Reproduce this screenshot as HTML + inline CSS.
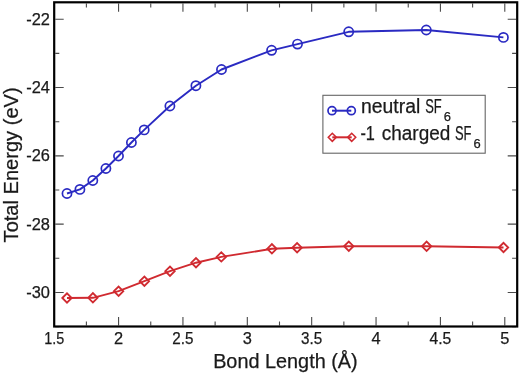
<!DOCTYPE html>
<html><head><meta charset="utf-8"><style>
html,body{margin:0;padding:0;background:#fff;}
svg{display:block;}
text{font-family:"Liberation Sans",Arial,sans-serif;fill:#1a1a1a;stroke:#1a1a1a;stroke-width:0.25px;}
.tl{font-size:16.4px;}
.al{font-size:19.6px;}
.lg{font-size:19.6px;}
.sb{font-size:12.3px;}
</style></head><body>
<svg width="520" height="374" viewBox="0 0 520 374">
<rect width="520" height="374" fill="#fff"/>
<path d="M86.39 325.40V321.40M86.39 3.40V7.40M118.57 325.40V317.00M118.57 3.40V11.80M150.75 325.40V321.40M150.75 3.40V7.40M182.94 325.40V317.00M182.94 3.40V11.80M215.12 325.40V321.40M215.12 3.40V7.40M247.31 325.40V317.00M247.31 3.40V11.80M279.50 325.40V321.40M279.50 3.40V7.40M311.68 325.40V317.00M311.68 3.40V11.80M343.87 325.40V321.40M343.87 3.40V7.40M376.05 325.40V317.00M376.05 3.40V11.80M408.24 325.40V321.40M408.24 3.40V7.40M440.42 325.40V317.00M440.42 3.40V11.80M472.61 325.40V321.40M472.61 3.40V7.40M504.79 325.40V317.00M504.79 3.40V11.80M55.30 19.20H63.70M516.10 19.20H507.70M55.30 53.36H59.30M516.10 53.36H512.10M55.30 87.52H63.70M516.10 87.52H507.70M55.30 121.68H59.30M516.10 121.68H512.10M55.30 155.84H63.70M516.10 155.84H507.70M55.30 190.00H59.30M516.10 190.00H512.10M55.30 224.16H63.70M516.10 224.16H507.70M55.30 258.32H59.30M516.10 258.32H512.10M55.30 292.48H63.70M516.10 292.48H507.70M55.30 326.64H59.30M516.10 326.64H512.10" stroke="#4a4a4a" stroke-width="1.1" fill="none"/>
<polyline points="67,193.5 79.9,189.4 92.8,180.5 105.9,168.5 118.5,156.0 131.4,142.5 144.2,129.9 169.9,106.0 195.9,85.7 221.5,69.5 271.6,50.3 297.5,44.1 348.7,31.8 426.3,30.0 503.4,37.4" fill="none" stroke="#2a2ac2" stroke-width="1.9" stroke-linejoin="round"/>
<polyline points="67,298 92.9,297.8 118.6,291.2 144.4,281.2 170,271.2 196,262.7 221.3,256.9 271.9,248.8 297.1,247.7 348.8,246.2 426.6,246.3 503.5,247.5" fill="none" stroke="#d02a30" stroke-width="1.9" stroke-linejoin="round"/>
<circle cx="67" cy="193.5" r="4.6" fill="none" stroke="#2a2ac2" stroke-width="1.7"/>
<circle cx="79.9" cy="189.4" r="4.6" fill="none" stroke="#2a2ac2" stroke-width="1.7"/>
<circle cx="92.8" cy="180.5" r="4.6" fill="none" stroke="#2a2ac2" stroke-width="1.7"/>
<circle cx="105.9" cy="168.5" r="4.6" fill="none" stroke="#2a2ac2" stroke-width="1.7"/>
<circle cx="118.5" cy="156.0" r="4.6" fill="none" stroke="#2a2ac2" stroke-width="1.7"/>
<circle cx="131.4" cy="142.5" r="4.6" fill="none" stroke="#2a2ac2" stroke-width="1.7"/>
<circle cx="144.2" cy="129.9" r="4.6" fill="none" stroke="#2a2ac2" stroke-width="1.7"/>
<circle cx="169.9" cy="106.0" r="4.6" fill="none" stroke="#2a2ac2" stroke-width="1.7"/>
<circle cx="195.9" cy="85.7" r="4.6" fill="none" stroke="#2a2ac2" stroke-width="1.7"/>
<circle cx="221.5" cy="69.5" r="4.6" fill="none" stroke="#2a2ac2" stroke-width="1.7"/>
<circle cx="271.6" cy="50.3" r="4.6" fill="none" stroke="#2a2ac2" stroke-width="1.7"/>
<circle cx="297.5" cy="44.1" r="4.6" fill="none" stroke="#2a2ac2" stroke-width="1.7"/>
<circle cx="348.7" cy="31.8" r="4.6" fill="none" stroke="#2a2ac2" stroke-width="1.7"/>
<circle cx="426.3" cy="30.0" r="4.6" fill="none" stroke="#2a2ac2" stroke-width="1.7"/>
<circle cx="503.4" cy="37.4" r="4.6" fill="none" stroke="#2a2ac2" stroke-width="1.7"/>
<path d="M62.30 298L67 293.30L71.70 298L67 302.70Z" fill="none" stroke="#d02a30" stroke-width="1.8"/>
<path d="M88.20 297.8L92.9 293.10L97.60 297.8L92.9 302.50Z" fill="none" stroke="#d02a30" stroke-width="1.8"/>
<path d="M113.90 291.2L118.6 286.50L123.30 291.2L118.6 295.90Z" fill="none" stroke="#d02a30" stroke-width="1.8"/>
<path d="M139.70 281.2L144.4 276.50L149.10 281.2L144.4 285.90Z" fill="none" stroke="#d02a30" stroke-width="1.8"/>
<path d="M165.30 271.2L170 266.50L174.70 271.2L170 275.90Z" fill="none" stroke="#d02a30" stroke-width="1.8"/>
<path d="M191.30 262.7L196 258.00L200.70 262.7L196 267.40Z" fill="none" stroke="#d02a30" stroke-width="1.8"/>
<path d="M216.60 256.9L221.3 252.20L226.00 256.9L221.3 261.60Z" fill="none" stroke="#d02a30" stroke-width="1.8"/>
<path d="M267.20 248.8L271.9 244.10L276.60 248.8L271.9 253.50Z" fill="none" stroke="#d02a30" stroke-width="1.8"/>
<path d="M292.40 247.7L297.1 243.00L301.80 247.7L297.1 252.40Z" fill="none" stroke="#d02a30" stroke-width="1.8"/>
<path d="M344.10 246.2L348.8 241.50L353.50 246.2L348.8 250.90Z" fill="none" stroke="#d02a30" stroke-width="1.8"/>
<path d="M421.90 246.3L426.6 241.60L431.30 246.3L426.6 251.00Z" fill="none" stroke="#d02a30" stroke-width="1.8"/>
<path d="M498.80 247.5L503.5 242.80L508.20 247.5L503.5 252.20Z" fill="none" stroke="#d02a30" stroke-width="1.8"/>
<rect x="54.2" y="2.3" width="463.00000000000006" height="324.2" fill="none" stroke="#000" stroke-width="2.2"/>
<text x="54.20" y="343.8" text-anchor="middle" class="tl" textLength="20.0" lengthAdjust="spacingAndGlyphs">1.5</text>
<text x="118.57" y="343.8" text-anchor="middle" class="tl">2</text>
<text x="182.94" y="343.8" text-anchor="middle" class="tl" textLength="21.2" lengthAdjust="spacingAndGlyphs">2.5</text>
<text x="247.31" y="343.8" text-anchor="middle" class="tl">3</text>
<text x="311.68" y="343.8" text-anchor="middle" class="tl" textLength="21.2" lengthAdjust="spacingAndGlyphs">3.5</text>
<text x="376.05" y="343.8" text-anchor="middle" class="tl">4</text>
<text x="440.42" y="343.8" text-anchor="middle" class="tl" textLength="21.8" lengthAdjust="spacingAndGlyphs">4.5</text>
<text x="504.79" y="343.8" text-anchor="middle" class="tl">5</text>
<text x="50" y="24.80" text-anchor="end" class="tl">-22</text>
<text x="50" y="93.12" text-anchor="end" class="tl">-24</text>
<text x="50" y="161.44" text-anchor="end" class="tl">-26</text>
<text x="50" y="229.76" text-anchor="end" class="tl">-28</text>
<text x="50" y="298.08" text-anchor="end" class="tl">-30</text>
<text x="285.4" y="367.7" text-anchor="middle" class="al" textLength="144.5" lengthAdjust="spacingAndGlyphs">Bond Length (Å)</text>
<text transform="translate(18.2 164.9) rotate(-90)" x="0" y="0" text-anchor="middle" class="al" textLength="155" lengthAdjust="spacingAndGlyphs">Total Energy (eV)</text>
<rect x="322.9" y="95.3" width="162.3" height="57.9" fill="none" stroke="#666" stroke-width="1.1"/>
<path d="M332 110.7H351.3" stroke="#2a2ac2" stroke-width="2"/>
<circle cx="332" cy="110.7" r="4" fill="none" stroke="#2a2ac2" stroke-width="1.7"/>
<circle cx="351.3" cy="110.7" r="4" fill="none" stroke="#2a2ac2" stroke-width="1.7"/>
<path d="M332.3 137.3H351.7" stroke="#d02a30" stroke-width="2"/>
<path d="M328.3 137.3L332.3 133.3L336.3 137.3L332.3 141.3Z" fill="none" stroke="#d02a30" stroke-width="1.6"/>
<path d="M347.7 137.3L351.7 133.3L355.7 137.3L351.7 141.3Z" fill="none" stroke="#d02a30" stroke-width="1.6"/>
<text x="361.0" y="113.3" class="lg" textLength="59.3" lengthAdjust="spacingAndGlyphs">neutral</text>
<text x="425.2" y="113.3" class="lg" textLength="16.5" lengthAdjust="spacingAndGlyphs">SF</text>
<text x="443.8" y="120.9" class="sb" textLength="7.2" lengthAdjust="spacingAndGlyphs">6</text>
<text x="360.4" y="139.5" class="lg" textLength="14.5" lengthAdjust="spacingAndGlyphs">-1</text>
<text x="381.8" y="139.5" class="lg" textLength="68.5" lengthAdjust="spacingAndGlyphs">charged</text>
<text x="455.0" y="139.5" class="lg" textLength="16.5" lengthAdjust="spacingAndGlyphs">SF</text>
<text x="473.4" y="147.8" class="sb" textLength="7.2" lengthAdjust="spacingAndGlyphs">6</text>
</svg>
</body></html>
